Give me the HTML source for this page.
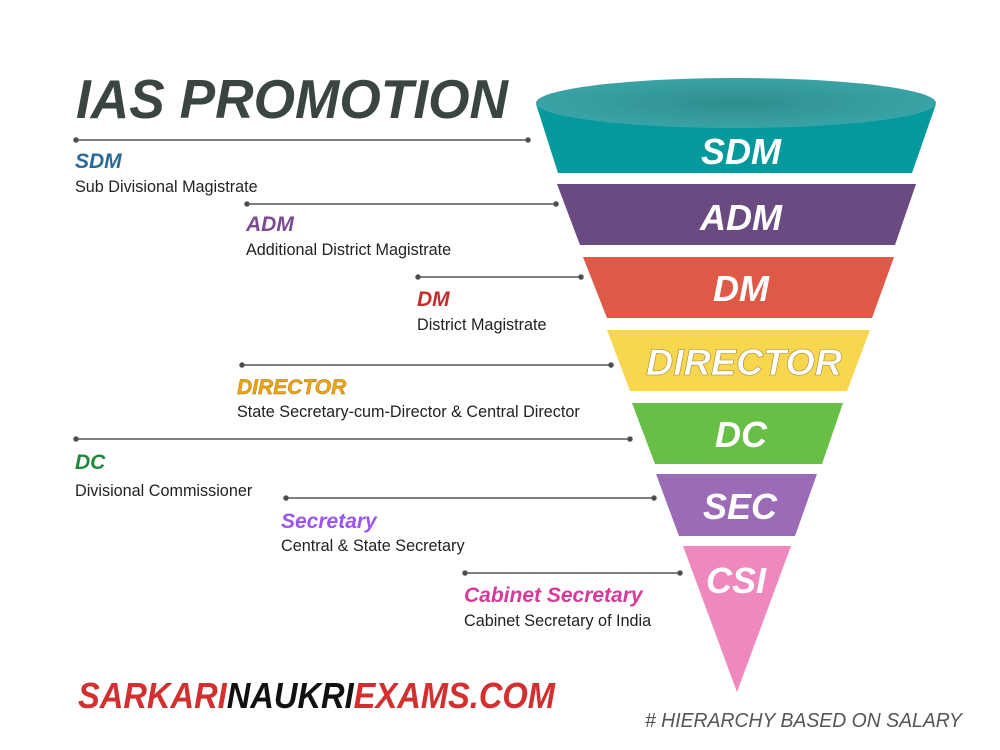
<!DOCTYPE html>
<html><head><meta charset="utf-8"><style>
html,body{margin:0;padding:0;background:#fff}
svg{display:block}
.h{font-family:"Liberation Sans",sans-serif;font-weight:bold;font-style:italic}
.d{font-family:"Liberation Sans",sans-serif;font-size:16.2px;fill:#222}
.b{font-family:"Liberation Sans",sans-serif;font-weight:bold;font-style:italic;fill:#fff;text-anchor:middle}
</style></head><body>
<svg width="1000" height="750" viewBox="0 0 1000 750" xmlns="http://www.w3.org/2000/svg">
<defs>
<radialGradient id="el" cx="0.5" cy="0.5" r="0.5"><stop offset="0" stop-color="#2f8e8e"/><stop offset="1" stop-color="#3aa3a6"/></radialGradient>
</defs>
<rect width="1000" height="750" fill="#fff"/>
<text x="76" y="118" class="h" font-size="55" fill="#3b4540" textLength="432" lengthAdjust="spacingAndGlyphs">IAS PROMOTION</text>

<path d="M536,104 L936,104 L912,173 L558,173 Z" fill="#04999c"/>
<ellipse cx="736" cy="103" rx="200" ry="25" fill="url(#el)"/>
<path d="M557,184 L916,184 L895,245 L580,245 Z" fill="#6b4a82"/>
<path d="M583,257 L894,257 L872,318 L607,318 Z" fill="#df5a46"/>
<path d="M607,330 L870,330 L847,391 L630,391 Z" fill="#f8d64e"/>
<path d="M632,403 L843,403 L822,464 L655,464 Z" fill="#68bf45"/>
<path d="M656,474 L817,474 L795,536 L679,536 Z" fill="#9c6bb8"/>
<path d="M683,546 L791,546 L737,692 Z" fill="#ef88bf"/>

<text x="741" y="164" class="b" font-size="36">SDM</text>
<text x="741" y="230" class="b" font-size="36">ADM</text>
<text x="741" y="301" class="b" font-size="36">DM</text>
<text x="744" y="375" class="b" font-size="37" fill="#fff" stroke="#a08a3a" stroke-width="0.6" textLength="196" lengthAdjust="spacingAndGlyphs">DIRECTOR</text>
<text x="741" y="447" class="b" font-size="36">DC</text>
<text x="740" y="519" class="b" font-size="36">SEC</text>
<text x="736" y="593" class="b" font-size="36">CSI</text>

<g stroke="#555" stroke-width="1.5" fill="#444">
<line x1="76" y1="140" x2="528" y2="140"/><circle cx="76" cy="140" r="2"/><circle cx="528" cy="140" r="2"/>
<line x1="247" y1="204" x2="556" y2="204"/><circle cx="247" cy="204" r="2"/><circle cx="556" cy="204" r="2"/>
<line x1="418" y1="277" x2="581" y2="277"/><circle cx="418" cy="277" r="2"/><circle cx="581" cy="277" r="2"/>
<line x1="242" y1="365" x2="611" y2="365"/><circle cx="242" cy="365" r="2"/><circle cx="611" cy="365" r="2"/>
<line x1="76" y1="439" x2="630" y2="439"/><circle cx="76" cy="439" r="2"/><circle cx="630" cy="439" r="2"/>
<line x1="286" y1="498" x2="654" y2="498"/><circle cx="286" cy="498" r="2"/><circle cx="654" cy="498" r="2"/>
<line x1="465" y1="573" x2="680" y2="573"/><circle cx="465" cy="573" r="2"/><circle cx="680" cy="573" r="2"/>
</g>

<text x="75" y="168" class="h" font-size="21" fill="#2a6a98">SDM</text>
<text x="75" y="192" class="d">Sub Divisional Magistrate</text>
<text x="246" y="231" class="h" font-size="21" fill="#7a4a94">ADM</text>
<text x="246" y="255" class="d">Additional District Magistrate</text>
<text x="417" y="306" class="h" font-size="21" fill="#c62e2e">DM</text>
<text x="417" y="330" class="d">District Magistrate</text>
<text x="237" y="394" class="h" font-size="21" fill="#eea410" stroke="#a07010" stroke-width="0.4">DIRECTOR</text>
<text x="237" y="417" class="d">State Secretary-cum-Director &amp; Central Director</text>
<text x="75" y="469" class="h" font-size="21" fill="#1e8a3a">DC</text>
<text x="75" y="496" class="d">Divisional Commissioner</text>
<text x="281" y="528" class="h" font-size="21" fill="#9b55ee">Secretary</text>
<text x="281" y="551" class="d">Central &amp; State Secretary</text>
<text x="464" y="602" class="h" font-size="21" fill="#d63a9a">Cabinet Secretary</text>
<text x="464" y="626" class="d">Cabinet Secretary of India</text>

<text x="78" y="708" class="h" font-size="36" textLength="477" lengthAdjust="spacingAndGlyphs"><tspan fill="#d32f2f">SARKARI</tspan><tspan fill="#111">NAUKRI</tspan><tspan fill="#d32f2f">EXAMS.COM</tspan></text>
<text x="645" y="727" font-family="Liberation Sans, sans-serif" font-style="italic" font-size="20" fill="#555" textLength="317" lengthAdjust="spacingAndGlyphs"># HIERARCHY BASED ON SALARY</text>
</svg>
</body></html>
